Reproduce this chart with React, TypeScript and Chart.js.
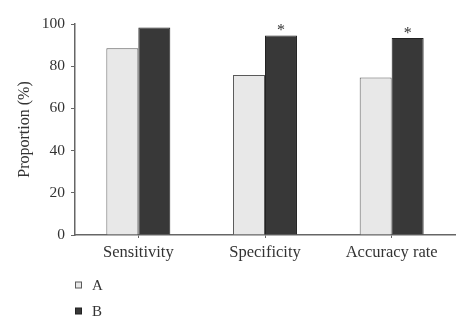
import React, { useEffect, useRef } from "react";
import { Chart, registerables } from "chart.js";

Chart.register(...registerables);

const categories = ["Sensitivity", "Specificity", "Accuracy rate"];
const seriesA = [88.5, 75.8, 74.6];
const seriesB = [98.3, 94.6, 93.4];
const significant = [false, true, true];
const seriesNames = ["A", "B"];
const yTicks = [0, 20, 40, 60, 80, 100];

const FONT = "'Liberation Serif', 'DejaVu Serif', serif";

const asteriskPlugin = {
  id: "asterisks",
  afterDatasetsDraw(chart: any) {
    const ctx = chart.ctx;
    const meta = chart.getDatasetMeta(1);
    ctx.save();
    ctx.fillStyle = "#333";
    ctx.font = `16px ${FONT}`;
    ctx.textAlign = "center";
    ctx.textBaseline = "alphabetic";
    meta.data.forEach((bar: any, i: number) => {
      if (significant[i]) ctx.fillText("*", bar.x, bar.y);
    });
    ctx.restore();
  },
};

const legendPlugin = {
  id: "customLegend",
  afterDraw(chart: any) {
    const ctx = chart.ctx;
    const left = chart.chartArea.left;
    ctx.save();
    ctx.font = `15px ${FONT}`;
    ctx.textBaseline = "middle";
    ctx.textAlign = "left";
    chart.data.datasets.forEach((ds: any, i: number) => {
      const cy = 285 + i * 26;
      ctx.fillStyle = ds.backgroundColor;
      ctx.strokeStyle = ds.borderColor;
      ctx.lineWidth = 1;
      ctx.fillRect(left + 0.5, cy - 3, 6, 6);
      ctx.strokeRect(left + 0.5, cy - 3, 6, 6);
      ctx.fillStyle = "#333";
      ctx.fillText(ds.label, left + 17, cy + 1);
    });
    ctx.restore();
  },
};

export default function App() {
  const ref = useRef<HTMLCanvasElement>(null);
  useEffect(() => {
    document.body.style.margin = "0";
    const chart = new Chart(ref.current!, {
      type: "bar",
      data: {
        labels: categories,
        datasets: [
          {
            label: seriesNames[0],
            data: seriesA,
            backgroundColor: "#e8e8e8",
            borderColor: "#5a5a5a",
            borderWidth: 1,
            categoryPercentage: 0.505,
            barPercentage: 1,
          },
          {
            label: seriesNames[1],
            data: seriesB,
            backgroundColor: "#383838",
            borderColor: "#222222",
            borderWidth: 1,
            categoryPercentage: 0.505,
            barPercentage: 1,
          },
        ],
      },
      options: {
        animation: false,
        responsive: false,
        layout: { padding: { top: 24, right: 19, left: 0, bottom: 0 } },
        plugins: { legend: { display: false }, tooltip: { enabled: false } },
        scales: {
          x: {
            grid: {
              offset: false,
              drawOnChartArea: false,
              tickLength: 3,
              color: "#666",
            },
            border: { color: "#666", width: 1.5 },
            ticks: {
              color: "#333",
              padding: 5,
              font: { family: FONT, size: 16.5 },
            },
            afterFit: (s: any) => {
              s.height = 97;
            },
          },
          y: {
            min: 0,
            max: 100,
            grid: {
              drawOnChartArea: false,
              tickLength: 4,
              color: "#666",
            },
            border: { color: "#666", width: 1.5 },
            ticks: {
              stepSize: 10,
              color: "#333",
              padding: 6,
              font: { family: FONT, size: 15.5 },
              callback: (v: any) => (yTicks.includes(Number(v)) ? String(v) : ""),
            },
            title: {
              display: true,
              text: "Proportion (%)",
              color: "#333",
              font: { family: FONT, size: 16 },
              padding: { top: 15, bottom: 0 },
            },
            afterFit: (s: any) => {
              s.width = 75;
            },
          },
        },
      },
      plugins: [asteriskPlugin, legendPlugin],
    });
    return () => chart.destroy();
  }, []);
  return <canvas ref={ref} width={474} height={332} />;
}
